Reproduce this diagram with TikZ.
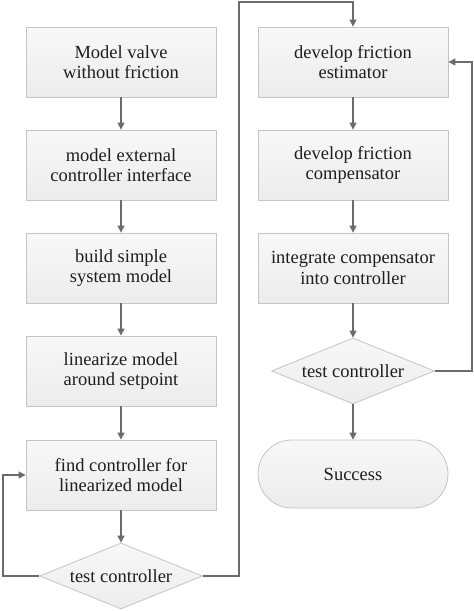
\documentclass[tikz,border=0pt]{standalone}
\usepackage{fontspec}
\setmainfont{Liberation Serif}
\usetikzlibrary{shapes.geometric,shapes.misc,arrows.meta}
\definecolor{filltop}{HTML}{F8F8F8}
\definecolor{fillbot}{HTML}{ECECEC}
\definecolor{boxedge}{HTML}{C4C4C4}
\definecolor{lineclr}{HTML}{6B6B6B}
\definecolor{txt}{HTML}{1E1E1E}
\tikzset{
  base/.style={draw=boxedge, line width=0.8pt, top color=filltop, bottom color=fillbot,
    inner sep=0pt, align=center, font=\fontsize{18.5}{20.5}\selectfont, text=txt},
  stepbox/.style={base, minimum width=190pt, minimum height=70pt},
  decide/.style={base, diamond, minimum width=163pt, minimum height=66pt, aspect=2.45},
  term/.style={base, rounded rectangle, minimum width=190pt, minimum height=68pt},
  conn/.style={draw=lineclr, line width=1.3pt, -{Triangle[width=7pt,length=7pt]}}
}
\begin{document}
\begin{tikzpicture}[x=1pt,y=-1pt]
\useasboundingbox (0,0) rectangle (474,611);
\node[stepbox] (b1) at (121,62) {Model valve\\without friction};
\node[stepbox] (b2) at (121,165) {model external\\controller interface};
\node[stepbox] (b3) at (121,268) {build simple\\system model};
\node[stepbox] (b4) at (121,371) {linearize model\\around setpoint};
\node[stepbox] (b5) at (121,475) {find controller for\\linearized model};
\node[decide] (d1) at (121,576) {test controller};

\node[stepbox] (r1) at (353,62) {develop friction\\estimator};
\node[stepbox] (r2) at (353,165) {develop friction\\compensator};
\node[stepbox] (r3) at (353,268) {integrate compensator\\into controller};
\node[decide] (d2) at (353,371) {test controller};
\node[term] (s) at (353,474) {Success};

\coordinate (l1) at (3,576);
\coordinate (l2) at (3,475);
\coordinate (m1) at (239,576);
\coordinate (m2) at (239,2);
\coordinate (m3) at (353,2);
\coordinate (q1) at (472,371);
\coordinate (q2) at (472,62);

\draw[conn] (b1) -- (b2);
\draw[conn] (b2) -- (b3);
\draw[conn] (b3) -- (b4);
\draw[conn] (b4) -- (b5);
\draw[conn] (b5) -- (d1);
\draw[conn] (d1.west) -- (l1) -- (l2) -- (b5.west);
\draw[conn] (d1.east) -- (m1) -- (m2) -- (m3) -- (r1.north);
\draw[conn] (r1) -- (r2);
\draw[conn] (r2) -- (r3);
\draw[conn] (r3) -- (d2);
\draw[conn] (d2) -- (s);
\draw[conn] (d2.east) -- (q1) -- (q2) -- (r1.east);
\end{tikzpicture}
\end{document}
